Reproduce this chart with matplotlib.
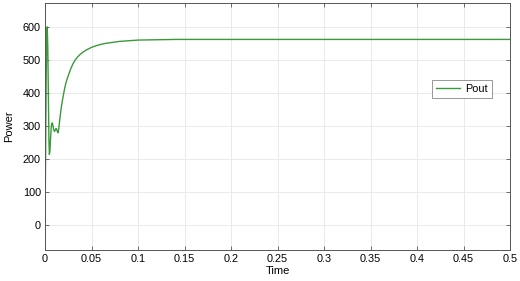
import matplotlib
matplotlib.use("Agg")
import matplotlib.pyplot as plt

time = [0, 0.0006, 0.0012, 0.0018, 0.0024, 0.003, 0.0036, 0.0042, 0.0047, 0.0053,
        0.006, 0.0068, 0.0078, 0.0085, 0.0093, 0.0102, 0.011, 0.0118, 0.0126, 0.0134,
        0.014, 0.0147, 0.0155, 0.0165, 0.0178, 0.019, 0.0205, 0.022, 0.0235, 0.025,
        0.0275, 0.03, 0.0325, 0.035, 0.0375, 0.04, 0.045, 0.05, 0.055, 0.06, 0.065,
        0.07, 0.08, 0.09, 0.1, 0.12, 0.14, 0.17, 0.2, 0.3, 0.4, 0.5]
power = [0, 200, 420, 570, 600, 540, 400, 260, 215, 225,
         265, 300, 310, 302, 290, 284, 288, 293, 290, 283,
         280, 290, 310, 335, 362, 382, 405, 425, 440, 452,
         472, 488, 500, 509, 516, 522, 531, 538, 543, 547, 550,
         552, 556, 558, 560, 561, 562, 562, 562, 562, 562, 562]

xticks = [0, 0.05, 0.1, 0.15, 0.2, 0.25, 0.3, 0.35, 0.4, 0.45, 0.5]
xticklabels = ["0", "0.05", "0.1", "0.15", "0.2", "0.25", "0.3", "0.35", "0.4", "0.45", "0.5"]
yticks = [0, 100, 200, 300, 400, 500, 600]

plt.rcParams['font.family'] = ['Liberation Sans', 'DejaVu Sans']
fig = plt.figure(figsize=(5.2, 2.81), dpi=100)
ax = fig.add_axes([45/520, 31/281, 465/520, 247/281])
ax.plot(time, power, color='#3a9a3a', linewidth=1.0, label='Pout')
ax.set_xlim(0, 0.5)
ax.set_ylim(-74, 672)
ax.set_xticks(xticks)
ax.set_xticklabels(xticklabels)
ax.set_yticks(yticks)
ax.grid(True, color='#e6e6e6', linewidth=0.6)
ax.tick_params(direction='in', top=True, right=True, labelsize=7.8, length=3,
               color='#555555', width=0.6, pad=3)
for s in ax.spines.values():
    s.set_color('#555555')
    s.set_linewidth(0.7)
ax.set_xlabel('Time', fontsize=8, labelpad=1)
ax.set_ylabel('Power', fontsize=8, labelpad=6)
leg = ax.legend(loc='center', bbox_to_anchor=(0.897, 0.652), fontsize=7.8,
                fancybox=False, framealpha=1, edgecolor='#888888',
                handlelength=2.2, borderpad=0.35, handletextpad=0.5)
leg.get_frame().set_linewidth(0.6)
fig.savefig('out.png', dpi=100)
